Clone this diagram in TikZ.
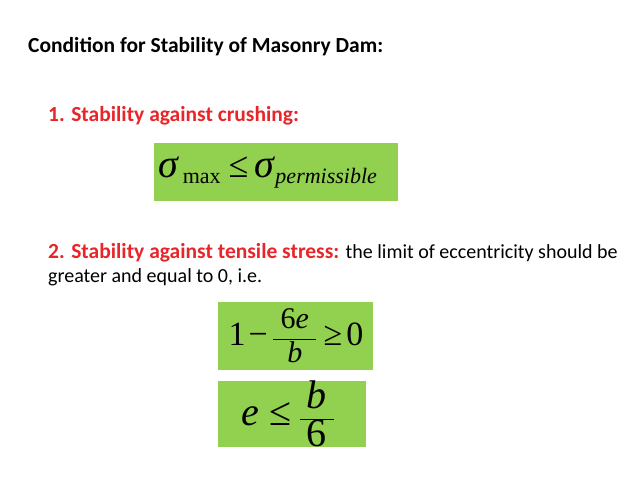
\documentclass[tikz,border=0pt]{standalone}
\usepackage{fontspec}
\setmainfont{Carlito}
\newfontfamily\tnr{Liberation Serif}
\definecolor{gbox}{HTML}{92D050}
\definecolor{rtxt}{HTML}{E8262A}
\begin{document}
\begin{tikzpicture}[x=1pt,y=-1pt,
  hd/.style={anchor=west,inner sep=0pt,font=\fontsize{21.5}{24}\selectfont\bfseries},
  gb/.style={fill=gbox,draw=none}]
\useasboundingbox[fill=white] (0,0) rectangle (638,478);
\node[hd] (t) at (28,47) {Condition for Stability of Masonry Dam:};
\node[hd,text=rtxt] (s1) at (48,116) {1. Stability against crushing:};
\fill[gb] (154,143) rectangle (398,201);
\node[anchor=west,inner sep=0pt] (f1) at (158,173) {\tnr\fontsize{40}{44}\selectfont\textit{σ}\fontsize{22}{24}\selectfont\raisebox{-6pt}{\,max}\hspace{8pt}\fontsize{36}{40}\selectfont ≤\,\fontsize{40}{44}\selectfont\textit{σ}\fontsize{22}{24}\selectfont\raisebox{-6pt}{\textit{permissible}}};
\node[hd] (s2) at (48,253) {\textcolor{rtxt}{2. Stability against tensile stress:} \mdseries\fontsize{20}{24}\selectfont the limit of eccentricity should be};
\node[anchor=west,inner sep=0pt,font=\fontsize{20}{24}\selectfont] (s3) at (48,277) {greater and equal to 0, i.e.};
\fill[gb] (218,302) rectangle (373,370);
\node[inner sep=0pt] (f2) at (296,336) {\tnr\fontsize{34}{38}\selectfont 1\hspace{3pt}−\hspace{4pt}$\displaystyle\frac{\hbox{\tnr\fontsize{30}{34}\selectfont\ 6\textit{e}\ }}{\hbox{\tnr\fontsize{30}{34}\selectfont\textit{b}}}$\hspace{6pt}≥\hspace{4pt}0};
\fill[gb] (218,381) rectangle (366,447);
\node[inner sep=0pt] (f3) at (288,414) {\tnr\fontsize{40}{44}\selectfont\textit{e}\hspace{10pt}≤\hspace{8pt}$\displaystyle\frac{\hbox{\tnr\fontsize{40}{44}\selectfont\,\textit{b}\,}}{\hbox{\tnr\fontsize{40}{44}\selectfont 6}}$};
\end{tikzpicture}
\end{document}
